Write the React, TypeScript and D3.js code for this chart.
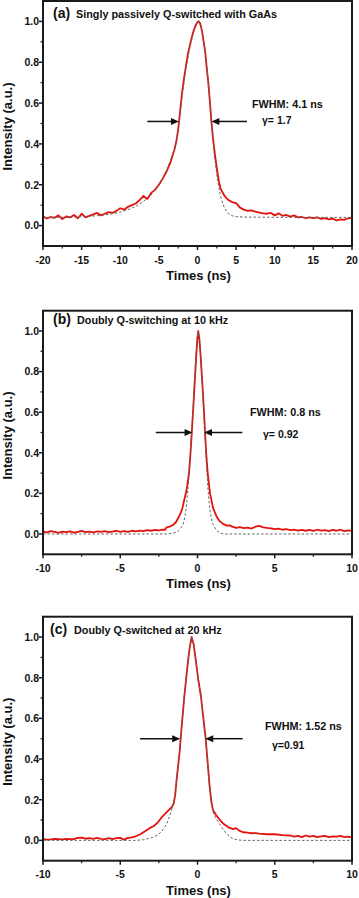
import React from 'react'
import * as d3 from 'd3'

type Pt = [number, number]

// measured trace (red) and fit (dashed) for each panel, [time ns, intensity]
const pulseA: Pt[] = [
  [-20, 0.045], [-19.5, 0.035], [-19, 0.042], [-18.5, 0.038], [-18, 0.05], [-17.5, 0.032],
  [-17, 0.045], [-16.5, 0.04], [-16, 0.052], [-15.5, 0.036], [-15, 0.058], [-14.5, 0.04],
  [-14, 0.048], [-13.5, 0.055], [-13, 0.062], [-12.5, 0.05], [-12, 0.058], [-11.5, 0.066],
  [-11, 0.062], [-10.5, 0.072], [-10, 0.085], [-9.5, 0.078], [-9, 0.092], [-8.5, 0.1],
  [-8, 0.108], [-7.5, 0.125], [-7, 0.145], [-6.5, 0.13], [-6, 0.16], [-5.5, 0.175],
  [-5, 0.2], [-4.5, 0.23], [-4, 0.265], [-3.5, 0.31], [-3, 0.37], [-2.75, 0.41],
  [-2.5, 0.47], [-2.25, 0.56], [-2, 0.65], [-1.75, 0.72], [-1.5, 0.78], [-1.25, 0.84],
  [-1, 0.88], [-0.75, 0.92], [-0.5, 0.955], [-0.25, 0.98], [0, 0.997], [0.15, 1.0],
  [0.35, 0.99], [0.6, 0.95], [0.8, 0.9], [1, 0.85], [1.2, 0.77], [1.4, 0.7],
  [1.6, 0.61], [1.8, 0.51], [2, 0.43], [2.25, 0.35], [2.5, 0.28], [2.75, 0.22],
  [3, 0.18], [3.5, 0.145], [4, 0.125], [4.5, 0.115], [5, 0.11], [5.5, 0.088],
  [6, 0.078], [6.5, 0.072], [7, 0.074], [7.5, 0.068], [8, 0.064], [8.5, 0.06],
  [9, 0.058], [9.5, 0.062], [10, 0.05], [10.5, 0.06], [11, 0.048], [11.5, 0.052],
  [12, 0.044], [12.5, 0.05], [13, 0.04], [13.5, 0.042], [14, 0.036], [14.5, 0.04],
  [15, 0.037], [15.5, 0.04], [16, 0.033], [16.5, 0.036], [17, 0.03], [17.5, 0.034],
  [18, 0.025], [18.5, 0.03], [19, 0.028], [19.5, 0.036], [20, 0.038]
]
const fitA: Pt[] = [
  [-20, 0.04], [-17, 0.041], [-15, 0.043], [-13, 0.048], [-12, 0.052], [-11, 0.058],
  [-10, 0.066], [-9, 0.078], [-8, 0.094], [-7, 0.118], [-6, 0.15], [-5, 0.2],
  [-4, 0.27], [-3, 0.37], [-2.5, 0.47], [-2, 0.63], [-1.5, 0.77], [-1, 0.87],
  [-0.5, 0.95], [0, 0.995], [0.15, 1.0], [0.5, 0.97], [1, 0.85], [1.4, 0.7],
  [1.8, 0.51], [2.2, 0.34], [2.6, 0.22], [3, 0.14], [3.5, 0.085], [4, 0.058],
  [4.5, 0.048], [5, 0.044], [6, 0.042], [8, 0.041], [20, 0.04]
]

const pulseB: Pt[] = [
  [-10, 0.012], [-9.75, 0.008], [-9.5, 0.014], [-9.25, 0.01], [-9, 0.006], [-8.75, 0.012],
  [-8.5, 0.009], [-8.25, 0.013], [-8, 0.007], [-7.75, 0.011], [-7.5, 0.015], [-7.25, 0.009],
  [-7, 0.012], [-6.75, 0.008], [-6.5, 0.013], [-6.25, 0.01], [-6, 0.014], [-5.75, 0.009],
  [-5.5, 0.012], [-5.25, 0.016], [-5, 0.011], [-4.75, 0.014], [-4.5, 0.01], [-4.25, 0.016],
  [-4, 0.013], [-3.75, 0.017], [-3.5, 0.014], [-3.25, 0.019], [-3, 0.016], [-2.75, 0.02],
  [-2.5, 0.018], [-2.25, 0.022], [-2.1, 0.021], [-2, 0.033], [-1.8, 0.036], [-1.6, 0.044],
  [-1.4, 0.058], [-1.2, 0.085], [-1, 0.12], [-0.85, 0.17], [-0.7, 0.22], [-0.55, 0.3],
  [-0.45, 0.4], [-0.37, 0.5], [-0.29, 0.6], [-0.2, 0.72], [-0.08, 0.88], [0, 0.97],
  [0.05, 1.0], [0.12, 0.96], [0.2, 0.88], [0.33, 0.72], [0.42, 0.6], [0.49, 0.5],
  [0.56, 0.4], [0.66, 0.3], [0.81, 0.2], [1, 0.13], [1.24, 0.085], [1.45, 0.062],
  [1.65, 0.05], [1.9, 0.041], [2.1, 0.043], [2.25, 0.036], [2.5, 0.03], [2.75, 0.034],
  [3, 0.029], [3.25, 0.031], [3.5, 0.027], [3.75, 0.036], [4, 0.04], [4.25, 0.033],
  [4.5, 0.03], [4.75, 0.028], [5, 0.024], [5.25, 0.027], [5.5, 0.021], [5.75, 0.024],
  [6, 0.019], [6.25, 0.022], [6.5, 0.017], [6.75, 0.02], [7, 0.016], [7.25, 0.02],
  [7.5, 0.015], [7.75, 0.021], [8, 0.017], [8.25, 0.019], [8.5, 0.014], [8.75, 0.02],
  [9, 0.016], [9.25, 0.021], [9.5, 0.014], [9.75, 0.018], [10, 0.015]
]
const fitB: Pt[] = [
  [-10, 0], [-2, 0], [-1.6, 0.004], [-1.37, 0.008], [-1.2, 0.018], [-0.94, 0.045],
  [-0.8, 0.09], [-0.7, 0.15], [-0.6, 0.24], [-0.5, 0.34], [-0.4, 0.48], [-0.3, 0.6],
  [-0.2, 0.74], [-0.1, 0.88], [0, 0.98], [0.05, 1.0], [0.15, 0.95], [0.25, 0.82],
  [0.35, 0.68], [0.45, 0.54], [0.55, 0.38], [0.65, 0.25], [0.78, 0.13], [0.9, 0.075],
  [1, 0.048], [1.2, 0.02], [1.43, 0.006], [1.7, 0], [10, 0]
]

const pulseC: Pt[] = [
  [-10, 0.006], [-9.75, 0.004], [-9.5, 0.005], [-9.25, 0.007], [-9, 0.006], [-8.75, 0.005],
  [-8.5, 0.007], [-8.25, 0.006], [-8, 0.006], [-7.75, 0.012], [-7.5, 0.013], [-7.25, 0.008],
  [-7, 0.011], [-6.75, 0.007], [-6.5, 0.012], [-6.25, 0.007], [-6, 0.006], [-5.75, 0.011],
  [-5.5, 0.006], [-5.25, 0.011], [-5, 0.012], [-4.75, 0.004], [-4.5, 0.012], [-4.25, 0.015],
  [-4, 0.02], [-3.7, 0.03], [-3.4, 0.045], [-3.1, 0.06], [-2.8, 0.072], [-2.55, 0.09],
  [-2.3, 0.115], [-2.1, 0.13], [-1.85, 0.15], [-1.65, 0.165], [-1.55, 0.18], [-1.45, 0.22],
  [-1.35, 0.3], [-1.25, 0.37], [-1.15, 0.44], [-1.09, 0.5], [-1, 0.58], [-0.85, 0.71],
  [-0.7, 0.82], [-0.6, 0.89], [-0.5, 0.95], [-0.38, 1.0], [-0.25, 0.965], [-0.1, 0.88],
  [0.05, 0.79], [0.22, 0.71], [0.38, 0.6], [0.53, 0.5], [0.65, 0.39], [0.78, 0.27],
  [0.9, 0.19], [1, 0.15], [1.2, 0.125], [1.45, 0.1], [1.7, 0.08], [2, 0.064],
  [2.3, 0.055], [2.5, 0.06], [2.7, 0.048], [2.95, 0.04], [3.25, 0.038], [3.5, 0.035],
  [3.75, 0.036], [4, 0.033], [4.5, 0.03], [5, 0.03], [5.5, 0.026], [6, 0.024],
  [6.25, 0.018], [6.5, 0.022], [6.75, 0.016], [7, 0.024], [7.25, 0.018], [7.5, 0.022],
  [7.75, 0.016], [8, 0.02], [8.25, 0.022], [8.5, 0.016], [8.75, 0.02], [9, 0.018],
  [9.25, 0.022], [9.5, 0.016], [9.75, 0.018], [10, 0.015]
]
const fitC: Pt[] = [
  [-10, 0], [-4, 0], [-3.5, 0.003], [-3, 0.012], [-2.6, 0.025], [-2.3, 0.045],
  [-2, 0.08], [-1.8, 0.12], [-1.6, 0.17], [-1.45, 0.22], [-1.35, 0.3], [-1.25, 0.37],
  [-1.15, 0.44], [-1.09, 0.5], [-1, 0.58], [-0.85, 0.71], [-0.7, 0.82], [-0.6, 0.89],
  [-0.5, 0.95], [-0.38, 1.0], [-0.25, 0.965], [-0.1, 0.88], [0.05, 0.79], [0.22, 0.71],
  [0.38, 0.6], [0.53, 0.5], [0.65, 0.38], [0.78, 0.26], [0.9, 0.18], [1.05, 0.13],
  [1.22, 0.105], [1.45, 0.078], [1.65, 0.055], [1.85, 0.035], [2.08, 0.018], [2.3, 0.008],
  [2.6, 0.002], [3, 0], [10, 0]
]

const xTicksWide = [-20, -15, -10, -5, 0, 5, 10, 15, 20]
const xTicksNarrow = [-10, -5, 0, 5, 10]
const yTicks = [0, 0.2, 0.4, 0.6, 0.8, 1.0]
const yMinor = [0.1, 0.3, 0.5, 0.7, 0.9]

// FWHM arrows: [tail time, tip time, intensity]
const arrowsA = [[-6.5, -2.4, 0.51], [6.4, 1.8, 0.51]]
const arrowsB = [[-2.7, -0.32, 0.5], [2.9, 0.42, 0.5]]
const arrowsC = [[-3.72, -1.12, 0.5], [2.92, 0.5, 0.5]]

const font = "Arial, 'Liberation Sans', Helvetica, sans-serif"
const left = 43
const right = 352

const panels = [
  {
    id: 'a', letter: '(a)', title: 'Singly passively Q-switched with GaAs',
    pulse: pulseA, fit: fitA, xDomain: [-20, 20], xTicks: xTicksWide, arrows: arrowsA,
    top: 1, bottom: 246, letterX: 53, titleX: 76, titleY: 18,
    fwhm: 'FWHM: 4.1 ns', fwhmX: 252, fwhmY: 108, gamma: 'γ= 1.7', gammaX: 262, gammaY: 124
  },
  {
    id: 'b', letter: '(b)', title: 'Doubly Q-switching at 10 kHz',
    pulse: pulseB, fit: fitB, xDomain: [-10, 10], xTicks: xTicksNarrow, arrows: arrowsB,
    top: 310.7, bottom: 554.3, letterX: 53, titleX: 77, titleY: 324,
    fwhm: 'FWHM: 0.8 ns', fwhmX: 250, fwhmY: 415.5, gamma: 'γ= 0.92', gammaX: 263, gammaY: 438
  },
  {
    id: 'c', letter: '(c)', title: 'Doubly Q-switched at 20 kHz',
    pulse: pulseC, fit: fitC, xDomain: [-10, 10], xTicks: xTicksNarrow, arrows: arrowsC,
    top: 616.7, bottom: 860.7, letterX: 50, titleX: 74, titleY: 633.5,
    fwhm: 'FWHM: 1.52 ns', fwhmX: 265, fwhmY: 729.5, gamma: 'γ=0.91', gammaX: 272, gammaY: 749
  }
]

function Panel({ p }: { p: any }) {
  const x = d3.scaleLinear().domain(p.xDomain).range([left, right])
  const y = d3.scaleLinear().domain([-0.1, 1.1]).range([p.bottom, p.top])
  const line = d3.line<Pt>().x(d => x(d[0])).y(d => y(d[1]))
  const step = p.xTicks[1] - p.xTicks[0]
  const xMinor = p.xTicks.slice(0, -1).map((t: number) => t + step / 2)
  const mid = (p.top + p.bottom) / 2

  return (
    <g>
      <defs>
        <clipPath id={'clip-' + p.id}>
          <rect x={left} y={p.top} width={right - left} height={p.bottom - p.top} />
        </clipPath>
      </defs>
      <g clipPath={`url(#clip-${p.id})`}>
        <path d={line(p.pulse) || ''} fill="none" stroke="#e3120b" strokeWidth={1.8} strokeLinejoin="round" />
        <path d={line(p.fit) || ''} fill="none" stroke="#666" strokeWidth={1} strokeDasharray="2.5,2" />
      </g>

      {p.arrows.map((a: number[], i: number) => {
        const x0 = x(a[0]), x1 = x(a[1]), yy = y(a[2])
        const dir = x1 > x0 ? 1 : -1
        return (
          <g key={i}>
            <line x1={x0} x2={x1 - dir * 6} y1={yy} y2={yy} stroke="#111" strokeWidth={1.5} />
            <path d={`M${x1},${yy}L${x1 - dir * 8},${yy - 3.5}L${x1 - dir * 8},${yy + 3.5}Z`} fill="#111" />
          </g>
        )
      })}

      <rect x={left} y={p.top} width={right - left} height={p.bottom - p.top} fill="none" stroke="#1a1a1a" strokeWidth={2} />

      {yTicks.map(v => (
        <g key={'y' + v}>
          <line x1={left - 4} x2={left} y1={y(v)} y2={y(v)} stroke="#1a1a1a" strokeWidth={1.5} />
          <text x={left - 4} y={y(v) + 3.8} textAnchor="end" fontSize={10.5} fontWeight="bold" fill="#111">{d3.format('.1f')(v)}</text>
        </g>
      ))}
      {yMinor.map(v => (
        <line key={'ym' + v} x1={left - 2.5} x2={left} y1={y(v)} y2={y(v)} stroke="#1a1a1a" strokeWidth={1.2} />
      ))}
      {p.xTicks.map((t: number) => (
        <g key={'x' + t}>
          <line x1={x(t)} x2={x(t)} y1={p.bottom} y2={p.bottom + 4} stroke="#1a1a1a" strokeWidth={1.5} />
          <text x={x(t)} y={p.bottom + 17.5} textAnchor="middle" fontSize={10.5} fontWeight="bold" fill="#111">{t}</text>
        </g>
      ))}
      {xMinor.map((t: number) => (
        <line key={'xm' + t} x1={x(t)} x2={x(t)} y1={p.bottom} y2={p.bottom + 2.5} stroke="#1a1a1a" strokeWidth={1.2} />
      ))}

      <text x={(left + right) / 2 + 1} y={p.bottom + 34} textAnchor="middle" fontSize={13} fontWeight="bold" fill="#111">Times (ns)</text>
      <text transform={`translate(11.5,${mid + 3}) rotate(-90)`} textAnchor="middle" fontSize={13} fontWeight="bold" fill="#111">Intensity (a.u.)</text>

      <text x={p.letterX} y={p.titleY} fontSize={14} fontWeight="bold" fill="#111">{p.letter}</text>
      <text x={p.titleX} y={p.titleY} fontSize={10.8} fontWeight="bold" fill="#111">{p.title}</text>
      <text x={p.fwhmX} y={p.fwhmY} fontSize={10.8} fontWeight="bold" fill="#111">{p.fwhm}</text>
      <text x={p.gammaX} y={p.gammaY} fontSize={10.5} fontWeight="bold" fill="#111">{p.gamma}</text>
    </g>
  )
}

export default function App() {
  return (
    <svg width={359} height={898} style={{ position: 'absolute', left: 0, top: 0, background: '#fff' }} fontFamily={font}>
      <rect width={359} height={898} fill="#fff" />
      {panels.map(p => <Panel key={p.id} p={p} />)}
    </svg>
  )
}
